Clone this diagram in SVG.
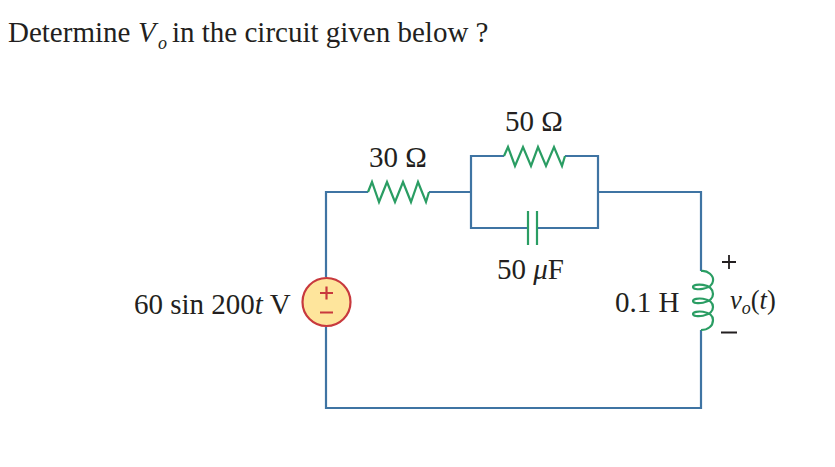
<svg xmlns="http://www.w3.org/2000/svg" width="835" height="467" viewBox="0 0 835 467">
<style>
text{font-family:"Liberation Serif","Times New Roman",serif;fill:#231f20;font-size:29px}
.i{font-style:italic}
.w{fill:none;stroke:#3f74a3;stroke-width:2.2}
.g{fill:none;stroke:#2a9d63;stroke-width:2.2}
</style>
<rect width="835" height="467" fill="#fff"/>
<text id="title" x="8" y="42">Determine</text>
<text class="i" x="138" y="42">V</text>
<text class="i" x="158" y="49" style="font-size:18px">o</text>
<text x="172" y="42">in the circuit given below ?</text>
<g id="connectors">
<path class="w" d="M326 277V192H368M429 192H471M471 192V156H504M565 156H598V228H537M528 228H471V192M598 192H701V271M701 330V408H326V327"/>
</g>
<g id="R1"><path class="g" d="M368 192L372 182L379 202L387 182L395 202L403 182L411 202L418 182L426 202L429 192"/><text x="369" y="167">30 Ω</text></g>
<g id="R2"><path class="g" d="M504 156L508 147L515 166L523 147L531 166L538 147L546 166L554 147L562 166L565 156"/><text x="505" y="131">50 Ω</text></g>
<g id="C1"><path class="g" d="M528 211V245M537 211V245"/><text x="497" y="279">50 <tspan class="i">μ</tspan>F</text></g>
<g id="L1"><path class="g" d="M701 271C708 270 714 276 713 281C712 290 693 291 693 287C693 283 713 283 713 294C713 304 693 305 693 301C693 297 713 297 713 307C713 317 693 318 693 314C693 310 713 310 713 320C713 326 708 330 701 330"/><text x="615" y="312">0.1 H</text></g>
<g id="V1"><circle cx="326.500" cy="302" r="24" fill="#fee59c" stroke="#c8393d" stroke-width="2.200"/><path d="M320 293H333M326.500 286.500V299.500M320 312.500H333" fill="none" stroke="#c8393d" stroke-width="2.200"/><text x="134" y="314">60 sin 200<tspan class="i">t</tspan> V</text></g>
<g id="vo"><path d="M722 262H736M729 255V269M721 332.500H737" stroke="#231f20" stroke-width="1.800" fill="none"/><text class="i" x="730" y="309" style="font-size:26.500px">v<tspan dy="5" style="font-size:18px">o</tspan><tspan dy="-5" style="font-style:normal">(</tspan>t<tspan style="font-style:normal">)</tspan></text></g>
</svg>
